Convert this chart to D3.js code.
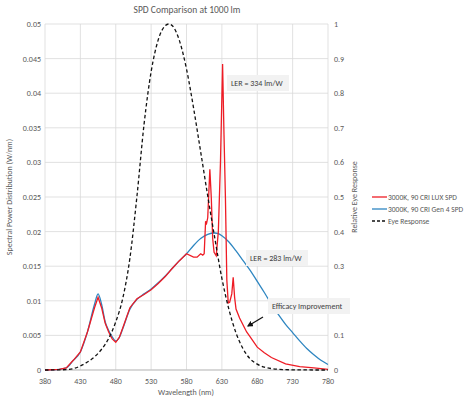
<!DOCTYPE html><html><head><meta charset="utf-8"><script src="https://cdn.jsdelivr.net/npm/d3@7"></script>
<style>body{margin:0;background:#fff}text{font-family:Calibri,Carlito,"Liberation Sans",Arial,sans-serif;fill:#595959}</style></head><body><svg id="c" width="474" height="400"></svg><script>
const eyeWl=[380,390,400,410,420,430,440,450,460,470,480,490,500,510,520,530,540,550,555,560,570,580,590,600,610,620,630,640,650,660,670,680,690,700,710,720,730,740,750,760,770,780];
const eyeVal=[0.00004,0.00012,0.0004,0.0012,0.004,0.0116,0.023,0.038,0.06,0.091,0.139,0.208,0.323,0.503,0.71,0.862,0.954,0.995,1,0.995,0.952,0.87,0.757,0.631,0.503,0.381,0.265,0.175,0.107,0.061,0.032,0.017,0.0082,0.0041,0.0021,0.00105,0.00052,0.00025,0.00012,0.00006,0.00003,0.000015];
const blueWl=[380,400,410,420,430,440,450,455,460,465,470,475,480,485,490,500,510,520,530,540,550,560,570,580,590,600,610,620,625,630,640,650,660,670,680,690,700,710,720,730,740,750,760,770,780];
const blueVal=[0,0.0001,0.0003,0.0014,0.0026,0.0055,0.0095,0.011,0.0095,0.007,0.0057,0.0048,0.0042,0.0047,0.006,0.0088,0.0102,0.011,0.0117,0.0126,0.0136,0.0147,0.0158,0.0168,0.018,0.019,0.0196,0.0198,0.0197,0.0194,0.0185,0.0172,0.0158,0.0144,0.0128,0.0112,0.0095,0.008,0.0066,0.0054,0.0042,0.0031,0.0022,0.0014,0.0008];
const redWl=[380,400,410,420,430,440,450,455,460,465,470,475,480,485,490,500,510,520,530,540,550,560,570,580,590,595,600,603,605,607,608,610,613,615,617,619,622,625,628,631,633,635,637,639,641,644,646,648,650,655,660,665,670,680,690,700,720,740,760,780];
const redVal=[0,0.0001,0.0003,0.0014,0.0026,0.0055,0.009,0.0105,0.009,0.0068,0.0055,0.0045,0.004,0.0047,0.0061,0.009,0.0103,0.0109,0.0116,0.0125,0.0135,0.0147,0.0158,0.0168,0.0163,0.0163,0.0168,0.0166,0.0168,0.0215,0.021,0.022,0.029,0.025,0.019,0.017,0.0165,0.02,0.03,0.0442,0.034,0.025,0.013,0.0097,0.0098,0.011,0.0134,0.0105,0.0088,0.0075,0.0065,0.0055,0.0048,0.0033,0.0025,0.0018,0.0009,0.0005,0.0003,0.0001];
const xTicks=[380,430,480,530,580,630,680,730,780];
const yTicks=[0,0.005,0.01,0.015,0.02,0.025,0.03,0.035,0.04,0.045,0.05];
const rTicks=[0,0.1,0.2,0.3,0.4,0.5,0.6,0.7,0.8,0.9,1];
const legendLabels=["3000K, 90 CRI LUX SPD","3000K, 90 CRI Gen 4 SPD","Eye Response"];

const svg=d3.select("#c");
const x=d3.scaleLinear().domain([380,780]).range([45,328]);
const y=d3.scaleLinear().domain([0,0.05]).range([370,24]);
const yr=d3.scaleLinear().domain([0,1]).range([370,24]);
const g=svg.append("g");
g.selectAll(".vg").data(xTicks).join("line").attr("x1",d=>x(d)).attr("x2",d=>x(d)).attr("y1",24).attr("y2",370).attr("stroke","#d9d9d9").attr("stroke-width",0.8);
g.selectAll(".hg").data(yTicks).join("line").attr("y1",d=>y(d)).attr("y2",d=>y(d)).attr("x1",45).attr("x2",328).attr("stroke","#d9d9d9").attr("stroke-width",0.8);
svg.append("line").attr("x1",45).attr("x2",328).attr("y1",370).attr("y2",370).attr("stroke","#bfbfbf");
const fs="8px";
svg.selectAll(".xt").data(xTicks).join("text").attr("x",d=>x(d)).attr("y",384).attr("text-anchor","middle").style("font-size",fs).text(d=>d);
svg.selectAll(".yt").data(yTicks).join("text").attr("x",41).attr("y",d=>y(d)+3).attr("text-anchor","end").style("font-size",fs).text(d=>d);
svg.selectAll(".rt").data(rTicks).join("text").attr("x",334).attr("y",d=>yr(d)+3).style("font-size",fs).text(d=>d);
svg.append("text").attr("x",187).attr("y",13).attr("text-anchor","middle").style("font-size","9.5px").text("SPD Comparison at 1000 lm");
svg.append("text").attr("x",186).attr("y",395).attr("text-anchor","middle").style("font-size",fs).text("Wavelength (nm)");
svg.append("text").attr("transform","translate(12,197) rotate(-90)").attr("text-anchor","middle").style("font-size",fs).text("Spectral Power Distribution (W/nm)");
svg.append("text").attr("transform","translate(357,197) rotate(-90)").attr("text-anchor","middle").style("font-size",fs).text("Relative Eye Response");
const line=(ys)=>d3.line().x(d=>x(d[0])).y(d=>ys(d[1]));
svg.append("path").attr("d",line(y).curve(d3.curveMonotoneX)(d3.zip(blueWl,blueVal))).attr("fill","none").attr("stroke","#2e86c1").attr("stroke-width",1.3);
svg.append("path").attr("d",line(y)(d3.zip(redWl,redVal))).attr("fill","none").attr("stroke","#ee1c25").attr("stroke-width",1.3);
svg.append("path").attr("d",line(yr).curve(d3.curveMonotoneX)(d3.zip(eyeWl,eyeVal))).attr("fill","none").attr("stroke","#111").attr("stroke-width",1.3).attr("stroke-dasharray","3.5,2.5");
function lab(t,x0,y0,w){svg.append("rect").attr("x",x0).attr("y",y0).attr("width",w).attr("height",16).attr("fill","#f2f2f2");
svg.append("text").attr("x",x0+4).attr("y",y0+11).style("font-size",fs).style("fill","#404040").text(t);}
lab("LER = 334 lm/W",227,75,62);lab("LER = 283 lm/W",246,250,62);lab("Efficacy Improvement",268,298,82);
svg.append("defs").append("marker").attr("id","ah").attr("viewBox","0 0 10 10").attr("refX",8).attr("refY",5).attr("markerWidth",5).attr("markerHeight",5).attr("orient","auto").append("path").attr("d","M0,0L10,5L0,10z").attr("fill","#111");
svg.append("line").attr("x1",263).attr("y1",317).attr("x2",248).attr("y2",326).attr("stroke","#111").attr("stroke-width",1.2).attr("marker-end","url(#ah)");
const lc=["#ee1c25","#2e86c1","#111"];
legendLabels.forEach((t,i)=>{const ly=197+i*12;
svg.append("line").attr("x1",372).attr("x2",387).attr("y1",ly).attr("y2",ly).attr("stroke",lc[i]).attr("stroke-width",1.3).attr("stroke-dasharray",i==2?"3,2":null);
svg.append("text").attr("x",388).attr("y",ly+3).style("font-size","7.5px").text(t);});
</script></body></html>
